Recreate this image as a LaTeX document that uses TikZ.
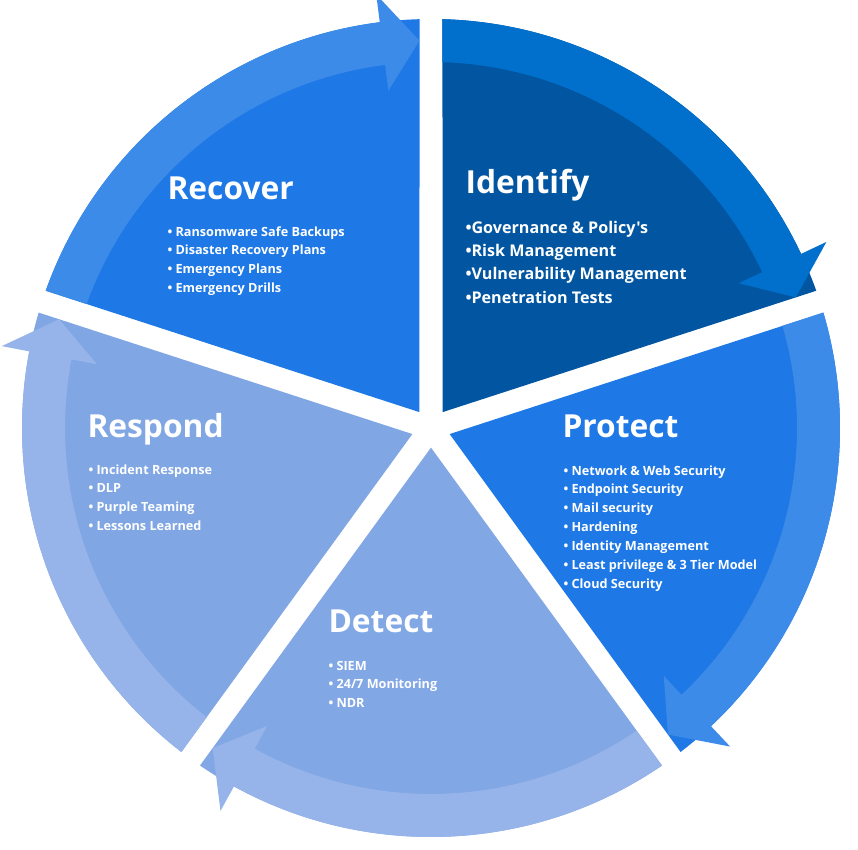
\documentclass[tikz,border=0pt]{standalone}
\usepackage{fontspec}
\newfontfamily\wheelfont{Open Sans}

\definecolor{idsec}{RGB}{2,85,160}
\definecolor{idband}{RGB}{0,112,204}
\definecolor{prsec}{RGB}{30,120,230}
\definecolor{prband}{RGB}{61,139,233}
\definecolor{recsec}{RGB}{30,120,230}
\definecolor{recband}{RGB}{61,139,233}
\definecolor{detsec}{RGB}{130,167,229}
\definecolor{detband}{RGB}{150,180,234}
\definecolor{ressec}{RGB}{128,166,228}
\definecolor{resband}{RGB}{150,180,234}

\tikzset{every picture/.style={line width=0.75pt},
  heading/.style={text=white,inner sep=0pt,anchor=base west,
    font=\wheelfont\bfseries\fontsize{23.8}{28}\selectfont},
  item/.style={text=white,inner sep=0pt,anchor=base west,
    font=\wheelfont\bfseries\fontsize{9.5}{12}\selectfont},
  bigitem/.style={item,font=\wheelfont\bfseries\fontsize{12.1}{15}\selectfont}}

\begin{document}
\begin{tikzpicture}[x=0.75pt,y=0.75pt,yscale=-1,xscale=1]
\useasboundingbox (0,0) rectangle (858,850);

%Wheel: five sectors, then the arrow band on each one
\begin{scope}[shift={(431,428)},yscale=-1]
\foreach \b/\sc in {54/idsec,-18/prsec,-90/detsec,-162/ressec,126/recsec}
  \fill[\sc] (\b:19.6) -- (\b+34.39:409) arc[start angle=\b+34.39,end angle=\b-34.39,radius=409] -- cycle;
\foreach \b/\bc in {54/idband,-18/prband,-90/detband,-162/resband,126/recband}
  \fill[\bc] (\b+34.39:409) arc[start angle=\b+34.39,end angle=\b-28.8,radius=409]
    -- (\b-28.8:437) -- (\b-34.3:387.5) -- (\b-28.8:340) -- (\b-28.8:366)
    arc[start angle=\b-28.8,end angle=\b+34.2,radius=366] -- cycle;
\end{scope}

%Headings
\node[heading] (recover) at (167,199.5) {Recover};
\node[heading] (identify) at (465,193) {Identify};
\node[heading] (protect) at (562,437.5) {Protect};
\node[heading] (respond) at (87,437) {Respond};
\node[heading] (detect) at (328,632.5) {Detect};

%Lists
\foreach \t [count=\i] in {Ransomware Safe Backups,Disaster Recovery Plans,Emergency Plans,Emergency Drills}
  \node[item] (recover-\i) at (167,{236+18.9*(\i-1)}) {\textbullet\ \t};
\foreach \t [count=\i] in {Governance \& Policy's,Risk Management,Vulnerability Management,Penetration Tests}
  \node[bigitem] (identify-\i) at (465,{233.3+23.3*(\i-1)}) {{\textbullet}\t};
\foreach \t [count=\i] in {Network \& Web Security,Endpoint Security,Mail security,Hardening,Identity Management,Least privilege \& 3 Tier Model,Cloud Security}
  \node[item] (protect-\i) at (563,{475+18.9*(\i-1)}) {\textbullet\ \t};
\foreach \t [count=\i] in {Incident Response,DLP,Purple Teaming,Lessons Learned}
  \node[item] (respond-\i) at (88,{474+18.7*(\i-1)}) {\textbullet\ \t};
\foreach \t [count=\i] in {SIEM,24/7 Monitoring,NDR}
  \node[item] (detect-\i) at (328,{670+18.7*(\i-1)}) {\textbullet\ \t};

\end{tikzpicture}
\end{document}
